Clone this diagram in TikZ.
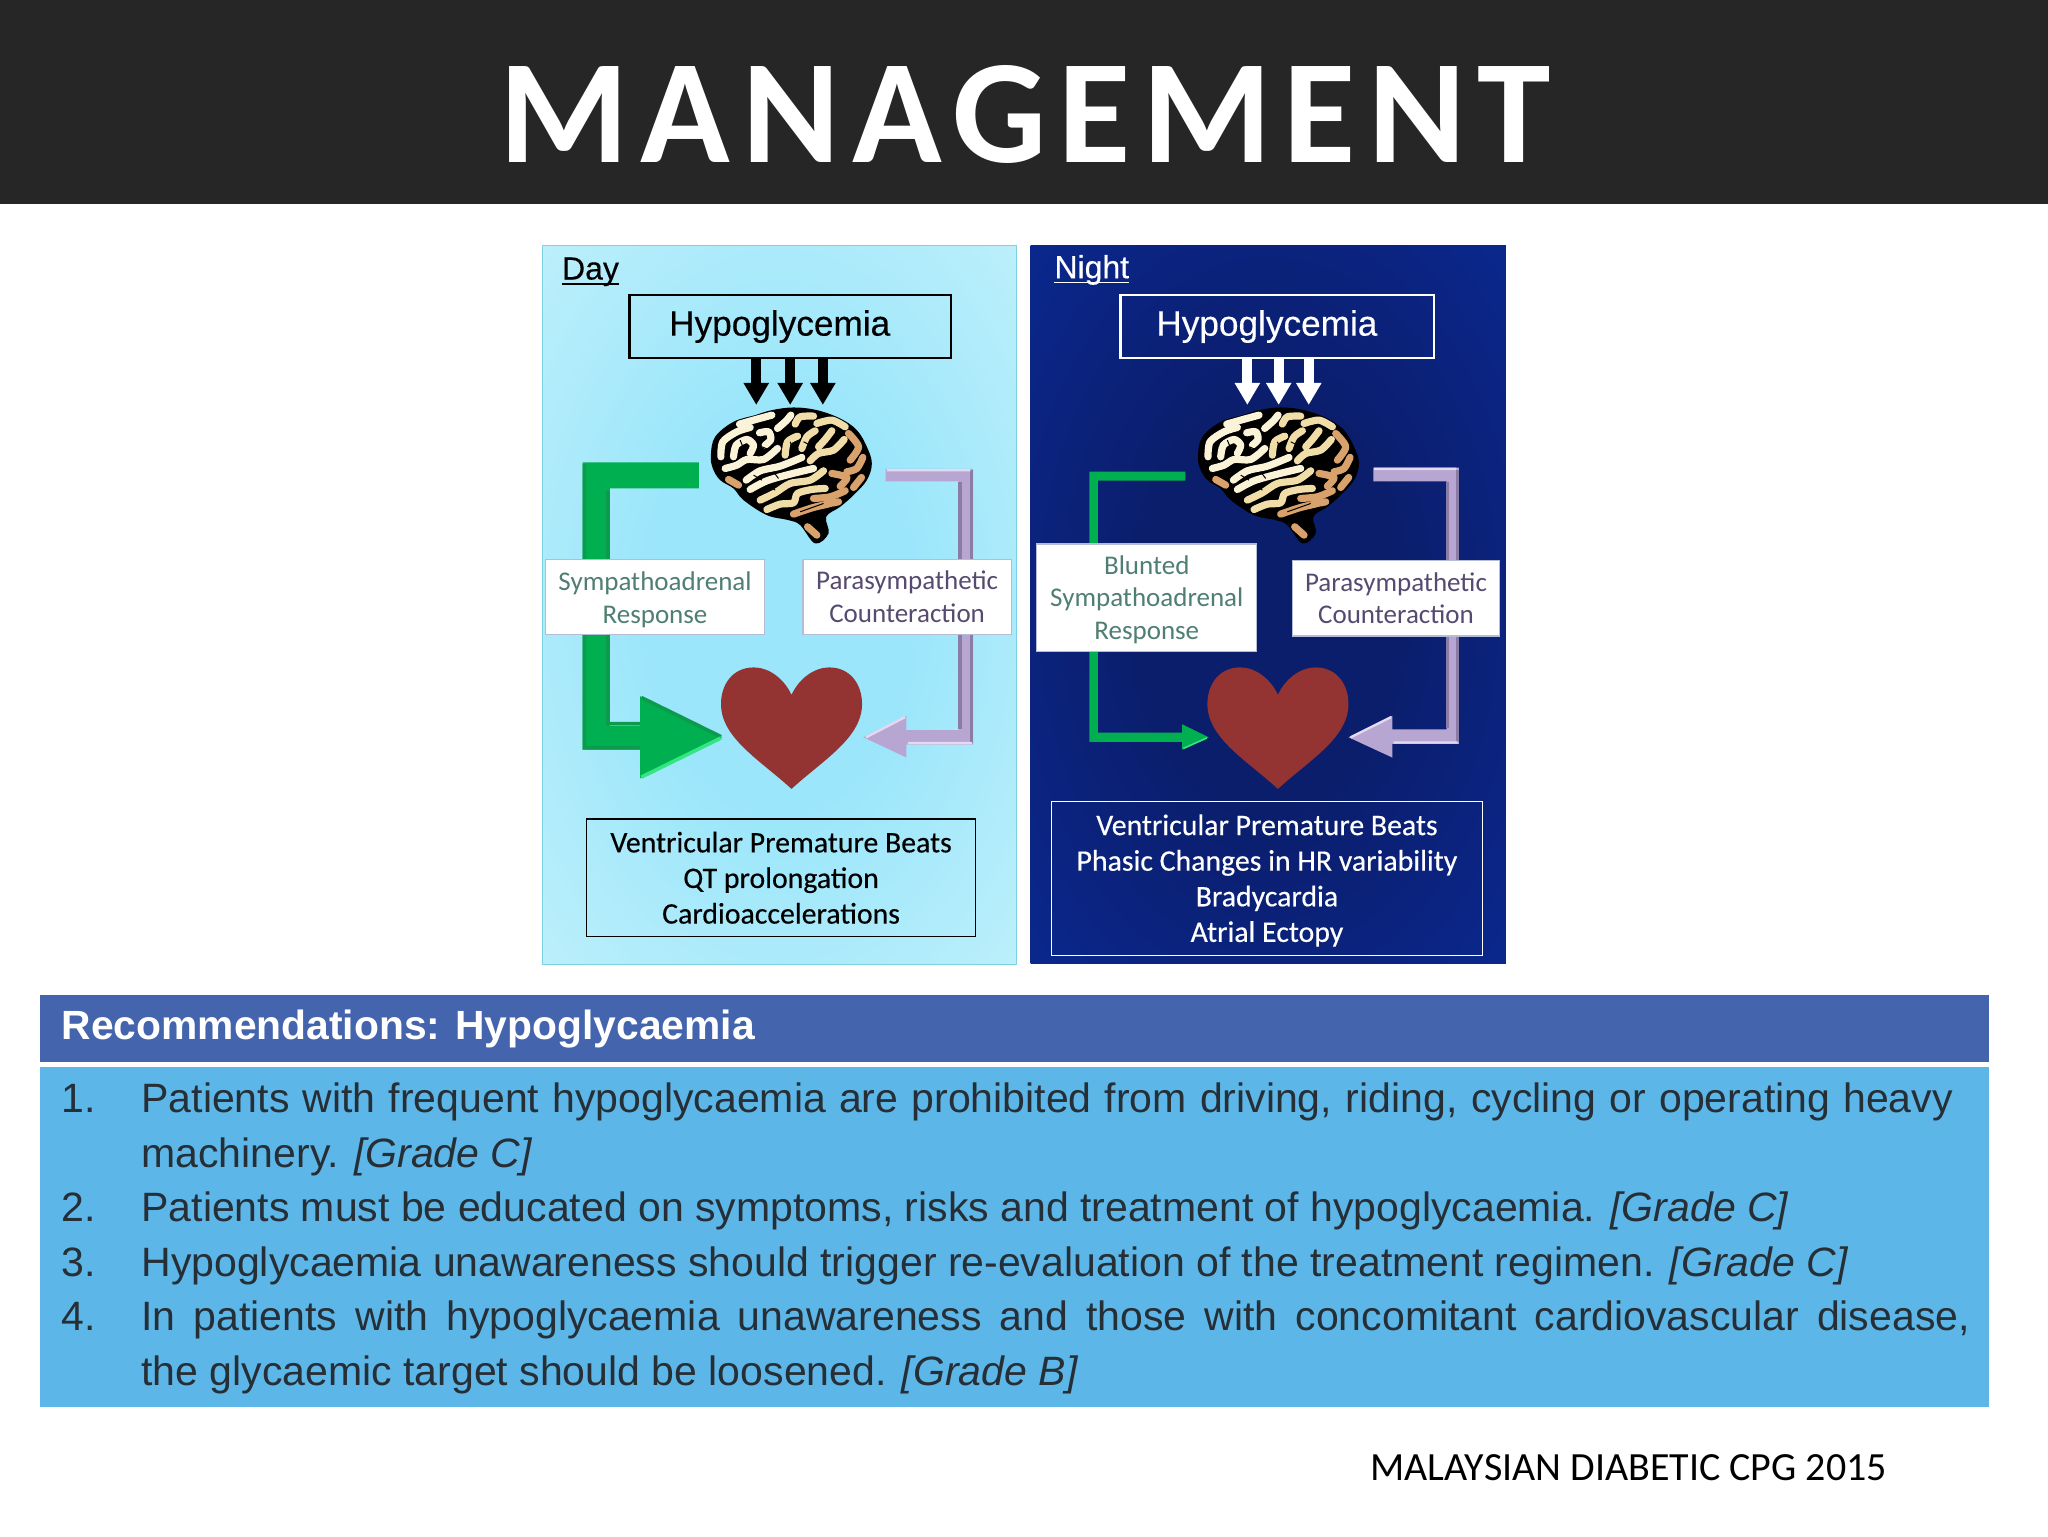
\documentclass[tikz,border=0pt]{standalone}
\usepackage{fontspec}
\setmainfont{Carlito}
\newfontfamily\arialfont{Liberation Sans}
\newfontfamily\arialheavy[FakeBold=0.35]{Liberation Sans}
\newfontfamily\carlitoheavy[FakeBold=0.35]{Carlito}
\newfontfamily\titlefont[LetterSpace=8.1]{Carlito}
\usepackage{xcolor}
\usetikzlibrary{arrows.meta}
\definecolor{barblack}{HTML}{262626}
\definecolor{dayin}{HTML}{9BE6FB}
\definecolor{dayout}{HTML}{D3F5FB}
\definecolor{nightin}{HTML}{0B1E6C}
\definecolor{nightout}{HTML}{0A2C9E}
\definecolor{recbar}{HTML}{4464AE}
\definecolor{recbody}{HTML}{5DB6E8}
\definecolor{rectext}{HTML}{262E36}
\definecolor{greenmain}{HTML}{00B050}
\definecolor{greendark}{HTML}{0C9A4C}
\definecolor{greenlight}{HTML}{35E583}
\definecolor{lilacmain}{HTML}{B7A6D2}
\definecolor{lilacdark}{HTML}{8B7CA6}
\definecolor{lilaclight}{HTML}{E3DAF0}
\definecolor{heartred}{HTML}{933432}
\definecolor{greentext}{HTML}{4F7F72}
\definecolor{lilactext}{HTML}{574A70}
\definecolor{labelline}{HTML}{B4BCD8}
\definecolor{braincream}{HTML}{FBF3D8}
\definecolor{braintan}{HTML}{F1DDA8}
\definecolor{brainbrown}{HTML}{D9A26C}
\def\ux{0.65306pt}
\newcommand{\topstrut}[1]{\rule{0pt}{#1}}
\pgfdeclareradialshading{dayglow}{\pgfpoint{0bp}{0bp}}{color(0bp)=(dayin); color(14bp)=(dayin); color(50bp)=(dayout)}
\pgfdeclareradialshading{nightglow}{\pgfpoint{0bp}{0bp}}{color(0bp)=(nightin); color(14bp)=(nightin); color(46bp)=(nightout); color(50bp)=(nightout)}
\tikzset{
  panellabel/.style={font=\arialheavy\fontsize{16}{18}\selectfont, anchor=base west, inner sep=0pt},
  hypobox/.style={draw, line width=1.2pt, align=center, minimum height=48*\ux, inner sep=0pt,
    font=\arialheavy\fontsize{17.6}{20}\selectfont},
  downarrow/.style={line width=5pt, -{Triangle[length=11pt,width=12pt]}},
  labelbox/.style={draw=labelline, fill=white, line width=0.6pt, align=center, inner sep=0pt,
    font=\fontsize{13.5}{16.4}\selectfont},
  effectbox/.style={draw, line width=0.8pt, align=center, inner sep=0pt,
    font=\carlitoheavy\fontsize{14.9}{17.8}\selectfont},
  rectext/.style={anchor=base west, inner sep=0pt, text=rectext, font=\arialfont\fontsize{20.5}{22}\selectfont},
  gyrus/.style={line width=3.6pt, line cap=round, line join=round},
  brainpic/.pic={
    \begin{scope}[scale=0.2552, shift={(-274,-222)}]
      \fill[black] plot[smooth cycle, tension=0.6] coordinates {(32,165) (45,110) (100,65) (165,45) (215,30) (280,22)
        (350,30) (420,55) (470,90) (500,140) (515,190) (500,240) (460,285) (420,320) (378,350)
        (385,400) (345,430) (300,375) (265,360) (200,345) (130,300) (100,265) (60,240) (38,205)};
      % brown folds on the right
      \draw[gyrus, brainbrown] plot[smooth] coordinates {(445,100) (475,140) (450,180)};
      \draw[gyrus, brainbrown] plot[smooth] coordinates {(488,172) (470,205) (440,215)};
      \draw[gyrus, brainbrown] plot[smooth] coordinates {(395,220) (440,232) (420,258)};
      \draw[gyrus, brainbrown] plot[smooth] coordinates {(484,232) (460,262)};
      \draw[gyrus, brainbrown] plot[smooth] coordinates {(340,295) (390,290) (435,272)};
      \draw[gyrus, brainbrown] plot[smooth] coordinates {(280,342) (340,322) (415,305)};
      \draw[gyrus, brainbrown] plot[smooth] coordinates {(85,238) (115,255)};
      \draw[gyrus, brainbrown] (322,380) -- (350,405);
      % pale folds on the left
      \draw[gyrus, braincream] plot[smooth] coordinates {(62,170) (68,125) (110,95) (150,82)};
      \draw[gyrus, braincream] plot[smooth] coordinates {(100,170) (108,135) (140,118) (160,135) (150,160)};
      \draw[gyrus, braincream] plot[smooth] coordinates {(75,205) (110,195) (140,178) (190,178) (232,145)};
      \draw[gyrus, braincream] plot[smooth] coordinates {(178,98) (205,95) (212,118) (195,135)};
      \draw[gyrus, braincream] plot[smooth] coordinates {(118,72) (160,60) (215,45)};
      \draw[gyrus, braincream] plot[smooth] coordinates {(232,85) (258,62) (272,45)};
      % tan folds in the middle
      \draw[gyrus, braintan] plot[smooth] coordinates {(285,72) (300,50) (340,48)};
      \draw[gyrus, braintan] plot[smooth] coordinates {(255,165) (262,125) (292,108)};
      \draw[gyrus, braintan] plot[smooth] coordinates {(305,145) (320,110) (345,92)};
      \draw[gyrus, braintan] plot[smooth] coordinates {(350,70) (395,60) (435,80)};
      \draw[gyrus, braintan] plot[smooth] coordinates {(355,140) (375,118) (395,92)};
      \draw[gyrus, braintan] plot[smooth] coordinates {(330,182) (355,160) (400,150) (432,118)};
      % long folds below
      \draw[gyrus, braincream] plot[smooth] coordinates {(138,240) (180,212) (240,198) (305,172)};
      \draw[gyrus, braincream] plot[smooth] coordinates {(150,268) (200,242) (270,222) (340,205)};
      \draw[gyrus, braintan] plot[smooth] coordinates {(180,300) (225,278) (270,250) (330,240) (370,212)};
      \draw[gyrus, braintan] plot[smooth] coordinates {(200,328) (240,312) (280,308) (292,280) (335,268) (375,265)};
      % fine hatching
      \draw[line width=0.5pt] (75,150) -- (95,135) (120,120) -- (130,145) (185,140) -- (210,150)
        (270,125) -- (280,150) (310,125) -- (330,135) (160,225) -- (185,240) (220,215) -- (235,235)
        (205,255) -- (225,270) (350,340) -- (400,320) (300,335) -- (370,310);
    \end{scope}
  },
  heartpic/.pic={
    \fill[heartred] (0,0) .. controls (5,-11) and (16,-21) .. (29,-21) .. controls (45,-21) and (54,-8) .. (54,7)
      .. controls (54,33) and (24,50) .. (0,72) .. controls (-24,50) and (-54,33) .. (-54,7)
      .. controls (-54,-8) and (-45,-21) .. (-29,-21) .. controls (-16,-21) and (-5,-11) .. (0,0) -- cycle;
  }
}
\begin{document}
\begin{tikzpicture}[x=\ux, y=-\ux]
\useasboundingbox (0,0) rectangle (1568,1176);
\fill[white] (0,0) rectangle (1568,1176);

% title bar
\fill[barblack] (0,0) rectangle (1568,156);
\node (title) at (785,88) [text=white, inner sep=0pt, font=\titlefont\bfseries\fontsize{74}{80}\selectfont] {MANAGEMENT};

% day panel
\path[shading=dayglow, draw=dayin!80!teal] (415,188) rectangle (778,738);
\node (daylabel) at (430,214) [panellabel] {\rlap{\rule[-2.6pt]{28.4pt}{0.9pt}}Day};
\node (hypoday) at (605,250) [hypobox, minimum width=246*\ux] {\kern-10.5pt\raisebox{1.5pt}{\makebox[111pt]{Hypoglycemia}}};
\coordinate (brainday) at (606,310);
\foreach \ax in {579,605,630}
  \draw[downarrow] (\ax,0 |- hypoday.south) -- (\ax,0 |- brainday);

\path[fill=greenmain] (535,354) -- (446,354) -- (446,574) -- (490,574) -- (490,596) -- (553,564.5) -- (490,533) -- (490,555.5) -- (467,555.5) -- (467,374) -- (535,374) -- cycle;
\draw[greendark, line width=1.8pt] (447.5,355.5) -- (447.5,572.5) -- (490,572.5) (465.5,376) -- (465.5,554) -- (490,554) (491,534) -- (552,564);
\draw[greenlight, line width=1.8pt] (491,595) -- (552,565);

\path[fill=lilacmain] (678,359) -- (745,359) -- (745,570) -- (694,570) -- (694,580) -- (661,564.5) -- (694,548) -- (694,559) -- (734,559) -- (734,368.5) -- (678,368.5) -- cycle;
\draw[lilacdark, line width=1.6pt] (744,360) -- (744,569) (735,369) -- (735,558);
\draw[lilaclight, line width=1.2pt] (679,360) -- (743,360) (695,569) -- (744,569) (663,564.5) -- (693,549);

\pic at (606,363) {brainpic};
\pic at (606,532) {heartpic};

\node (sympday) at (501.5,457) [labelbox, text=greentext, minimum width=167.5*\ux, minimum height=57*\ux] {\topstrut{12pt}Sympathoadrenal\\Response};
\node (paraday) at (694.5,457) [labelbox, text=lilactext, minimum width=159.5*\ux, minimum height=57*\ux] {Parasympathetic\\Counteraction};
\node (effectday) at (598,672) [effectbox, minimum width=298*\ux, minimum height=90*\ux] {Ventricular Premature Beats\\QT prolongation\\Cardioaccelerations};

% night panel
\path[shading=nightglow] (789,188) rectangle (1153,738);
\node (nightlabel) at (807,213) [panellabel, text=white] {\rlap{\rule[-2.6pt]{37.3pt}{0.9pt}}Night};
\node (hyponight) at (978,250) [hypobox, draw=white, text=white, minimum width=240*\ux] {\kern-10.5pt\raisebox{1.5pt}{\makebox[111pt]{Hypoglycemia}}};
\coordinate (brainnight) at (979,310);
\foreach \ax in {955,979,1002}
  \draw[downarrow, white] (\ax,0 |- hyponight.south) -- (\ax,0 |- brainnight);

\path[fill=greenmain] (907.5,361) -- (834,361) -- (834,568) -- (905,568) -- (905,574) -- (925.5,564.5) -- (905,554.5) -- (905,561) -- (840.5,561) -- (840.5,368) -- (907.5,368) -- cycle;
\draw[greenlight, line width=0.8pt] (906,573) -- (924,565);

\path[fill=lilacmain] (1051.5,358) -- (1117,358) -- (1117,569.5) -- (1066,569.5) -- (1066,580) -- (1032.5,564.5) -- (1066,548) -- (1066,558.5) -- (1107.5,558.5) -- (1107.5,368.5) -- (1051.5,368.5) -- cycle;
\draw[lilacdark, line width=1.6pt] (1116,360) -- (1116,568) (1108.5,369) -- (1108.5,557);
\draw[lilaclight, line width=1.2pt] (1052,359) -- (1115,359) (1067,568.5) -- (1116,568.5) (1034,564.5) -- (1065,549);

\pic at (979,363) {brainpic};
\pic at (978.4,532) {heartpic};

\node (sympnight) at (878,457.5) [labelbox, text=greentext, minimum width=168.5*\ux, minimum height=82*\ux] {\topstrut{11.5pt}Blunted\\Sympathoadrenal\\Response};
\node (paranight) at (1068.8,458) [labelbox, text=lilactext, minimum width=159*\ux, minimum height=58*\ux] {Parasympathetic\\Counteraction};
\node (effectnight) at (970,672.5) [effectbox, draw=white, text=white, line width=0.6pt, minimum width=330*\ux, minimum height=118*\ux] {\topstrut{12.5pt}Ventricular Premature Beats\\Phasic Changes in HR variability\\Bradycardia\\Atrial Ectopy};

% recommendations
\fill[recbar] (31,762) rectangle (1523,813);
\fill[recbody] (31,817) rectangle (1523,1077);
\node (recheader) at (47,796) [anchor=base west, inner sep=0pt, text=white, font=\arialfont\bfseries\fontsize{20.4}{22}\selectfont] {Recommendations: Hypoglycaemia};
\foreach \num/\liney in {1/851.5,2/935.5,3/977.5,4/1018.5}
  \node (recnum\num) at (47,\liney) [rectext] {\num.};
\node (recone) at (108,851.5) [rectext] {\makebox[905.8pt][s]{Patients with frequent hypoglycaemia are prohibited from driving, riding, cycling or operating heavy}};
\node (reconeb) at (108,893.5) [rectext] {machinery. \textit{[Grade C]}};
\node (rectwo) at (108,935.5) [rectext] {Patients must be educated on symptoms, risks and treatment of hypoglycaemia. \textit{[Grade C]}};
\node (recthree) at (108,977.5) [rectext] {Hypoglycaemia unawareness should trigger re-evaluation of the treatment regimen. \textit{[Grade C]}};
\node (recfour) at (108,1018.5) [rectext] {\makebox[914.3pt][s]{In patients with hypoglycaemia unawareness and those with concomitant cardiovascular disease,}};
\node (recfourb) at (108,1060.5) [rectext] {the glycaemic target should be loosened. \textit{[Grade B]}};

% source line
\node (source) at (1247,1124) [inner sep=0pt, font=\fontsize{20}{24}\selectfont] {MALAYSIAN DIABETIC CPG 2015};
\end{tikzpicture}
\end{document}
